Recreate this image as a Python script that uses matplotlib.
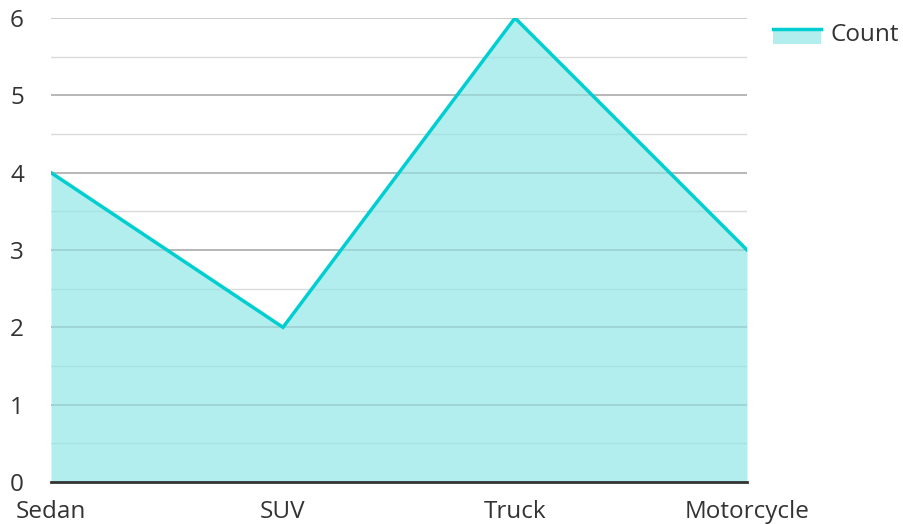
import numpy as np
import matplotlib
matplotlib.use("Agg")
import matplotlib.pyplot as plt
from matplotlib.legend_handler import HandlerBase
from matplotlib.patches import Rectangle
from matplotlib.lines import Line2D

plt.rcParams['font.family'] = ['Open Sans', 'DejaVu Sans']

categories = ["Sedan", "SUV", "Truck", "Motorcycle"]
counts = [4, 2, 6, 3]
series_name = "Count"

line_color = "#00CED1"
fill_color = "#B2EEEE"


class AreaHandler(HandlerBase):
    # legend swatch: line on top of a filled box
    def create_artists(self, legend, orig_handle, xdescent, ydescent,
                       width, height, fontsize, trans):
        top = -ydescent + 0.7 * height
        rect = Rectangle((-xdescent, top - 0.9 * height), width, height * 0.9,
                         facecolor=fill_color, edgecolor="none", transform=trans)
        ln = Line2D([-xdescent, -xdescent + width], [top, top],
                    color=line_color, lw=2.5, transform=trans)
        return [rect, ln]


fig = plt.figure(figsize=(9.04, 5.24), dpi=100)
ax = fig.add_axes([51 / 904, 42 / 524, 696 / 904, 464 / 524])

x = np.arange(len(categories))
ax.fill_between(x, counts, 0, color=fill_color, lw=0, zorder=2)
ax.plot(x, counts, color=line_color, lw=2.5, zorder=3, solid_joinstyle="miter")

ax.set_xlim(0, len(categories) - 1)
ax.set_ylim(0, 6)

# gridlines: major at integers, minor at halves
for v in np.arange(0.5, 6, 1.0):
    ax.axhline(v, color="#e6e6e6", lw=1, zorder=1)
for v in range(1, 7):
    ax.axhline(v, color="#c4c4c4", lw=1.2, zorder=1)
for v in np.arange(0.5, 6, 1.0):
    ax.axhline(v, color="#000000", alpha=0.05, lw=1, zorder=2.5)
for v in range(1, 6):
    ax.axhline(v, color="#000000", alpha=0.12, lw=1.2, zorder=2.5)

ax.set_yticks(range(0, 7))
ax.set_xticks(x)
ax.set_xticklabels(categories)
ax.tick_params(axis="both", length=0, labelsize=17.5, colors="#333333")
ax.tick_params(axis="y", pad=19.5)
ax.tick_params(axis="x", pad=13)

for s in ["top", "right", "left"]:
    ax.spines[s].set_visible(False)
ax.spines["bottom"].set_color("#333333")
ax.spines["bottom"].set_linewidth(2)
ax.spines["bottom"].set_zorder(4)

handle = Rectangle((0, 0), 1, 1)
leg = fig.legend([handle], [series_name], handler_map={Rectangle: AreaHandler()},
                 loc="upper left", bbox_to_anchor=(763 / 904, 1 - 13 / 524),
                 borderaxespad=0, frameon=False, fontsize=17.5,
                 handlelength=2.0, handletextpad=0.37, labelcolor="#333333")

fig.savefig("out.png", dpi=100)
